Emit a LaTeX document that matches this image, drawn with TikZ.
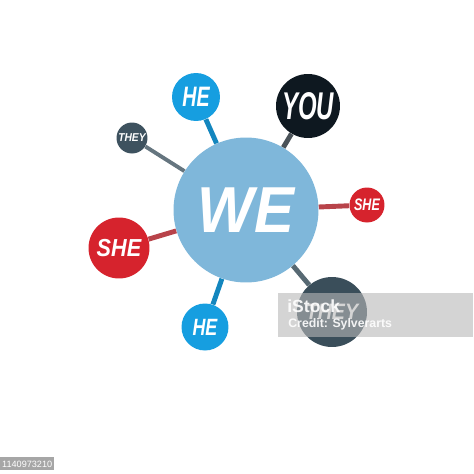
\documentclass[tikz,border=0pt]{standalone}
\usepackage{fontspec}
\setmainfont{Liberation Sans}
\usepackage{xcolor}

\definecolor{weblue}{RGB}{127,183,218}
\definecolor{heblue}{RGB}{22,158,224}
\definecolor{youblack}{RGB}{14,24,32}
\definecolor{theygray}{RGB}{62,82,95}
\definecolor{theydark}{RGB}{58,78,90}
\definecolor{shered}{RGB}{214,35,45}

\newcommand{\pron}[3]{\scalebox{#2}[1]{\fontsize{#1}{#1}\selectfont\bfseries\itshape #3}}

\begin{document}
\begin{tikzpicture}[x=0.02cm,y=-0.02cm,
  bubble/.style={circle,inner sep=0pt,text=white},
  link/.style={line width=2.8pt}]
\useasboundingbox (0,0) rectangle (474,474);

\node[bubble,fill=weblue,minimum size=2.9cm] (we) at (246,210) {\pron{37}{0.92}{WE}};
\node[bubble,fill=heblue,minimum size=0.96cm] (hetop) at (196,97) {\pron{16}{0.7}{HE}};
\node[bubble,fill=youblack,minimum size=1.28cm] (you) at (308,106) {\pron{22}{0.62}{YOU}};
\node[bubble,fill=theygray,minimum size=0.62cm] (theysmall) at (132,138) {\pron{6.5}{0.9}{THEY}};
\node[bubble,fill=shered,minimum size=0.7cm] (sheright) at (367,205) {\pron{9.5}{0.75}{SHE}};
\node[bubble,fill=shered,minimum size=1.22cm] (sheleft) at (119,248) {\pron{14}{0.88}{SHE}};
\node[bubble,fill=heblue,minimum size=0.94cm] (hebottom) at (205,327) {\pron{13.4}{0.76}{HE}};
\node[bubble,fill=theydark,minimum size=1.4cm] (theybig) at (332,312) {\pron{12.7}{0.88}{THEY}};

\draw[link,heblue!85!black] (hetop) -- (we);
\draw[link,youblack!75!white] (you) -- (we);
\draw[link,line width=2.2pt,theygray!80!white] (theysmall) -- (we);
\draw[link,shered!65!gray] (sheright) -- (we);
\draw[link,shered!65!gray] (sheleft) -- (we);
\draw[link,heblue!85!black] (hebottom) -- (we);
\draw[link,theydark!85!white] (theybig) -- (we);

% watermark
\node[fill=white!72!black,opacity=.6,inner sep=0pt,anchor=north west,
  minimum width=3.9cm,minimum height=0.88cm] (wmark) at (278,293) {};
\node[anchor=west,text=white,opacity=.9,font=\bfseries\fontsize{10}{10}\selectfont,inner sep=0pt]
  (istock) at (287,306) {iStock};
\node[anchor=west,text=white,opacity=.9,font=\bfseries\fontsize{7}{7}\selectfont,inner sep=0pt]
  (credit) at (288,324) {Credit: Sylverarts};
\node[fill=white!65!black,text=white,anchor=north west,inner sep=1pt,
  font=\fontsize{5.2}{5.2}\selectfont,minimum width=1.06cm,minimum height=0.26cm] (imgid) at (0,457) {1140973210};
\end{tikzpicture}
\end{document}
